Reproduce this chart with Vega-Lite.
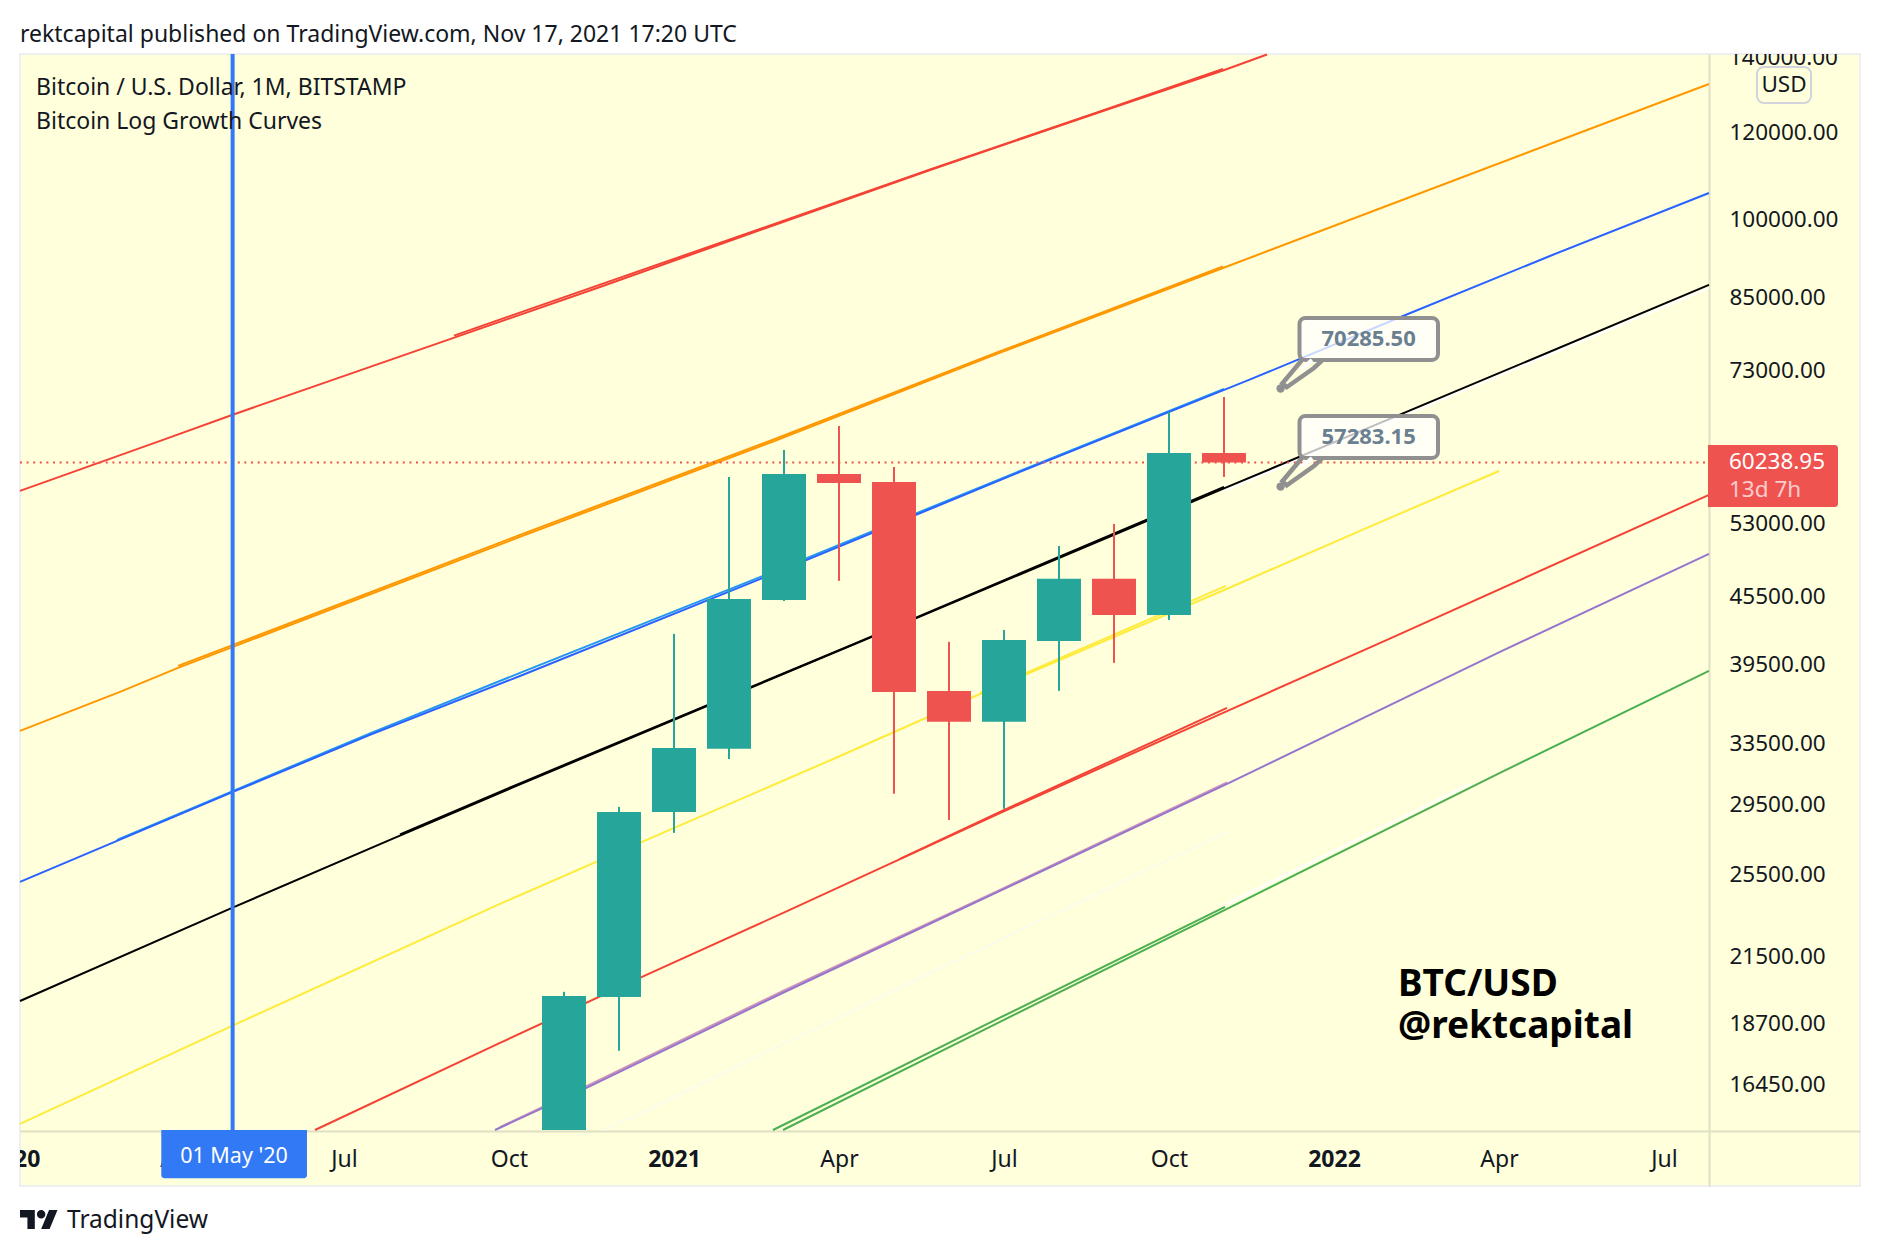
{
  "$schema": "https://vega.github.io/schema/vega-lite/v6.json",
  "autosize": {"type": "none"},
  "width": 1840,
  "height": 1132,
  "padding": {"left": 20, "right": 20, "top": 54, "bottom": 70},
  "background": "#ffffff",
  "title": {
    "text": "rektcapital published on TradingView.com, Nov 17, 2021 17:20 UTC",
    "anchor": "start",
    "frame": "group",
    "font": "Noto Sans",
    "fontSize": 23,
    "fontWeight": "normal",
    "color": "#131722",
    "offset": 3
  },
  "config": {
    "view": {"fill": "#ffffdb", "stroke": "#efefef", "strokeWidth": 2},
    "text": {"font": "Noto Sans"}
  },
  "datasets": {
    "candles": [
      {"m": 10, "month": "Nov 2020", "open": 14960, "high": 19960, "low": 14960, "close": 19790},
      {"m": 11, "month": "Dec 2020", "open": 19750, "high": 29360, "low": 17650, "close": 29050},
      {"m": 12, "month": "Jan 2021", "open": 29050, "high": 42120, "low": 27810, "close": 33200},
      {"m": 13, "month": "Feb 2021", "open": 33140, "high": 58450, "low": 32450, "close": 45310},
      {"m": 14, "month": "Mar 2021", "open": 45220, "high": 61830, "low": 45120, "close": 58820},
      {"m": 15, "month": "Apr 2021", "open": 58820, "high": 65010, "low": 47050, "close": 57720},
      {"m": 16, "month": "May 2021", "open": 57840, "high": 59680, "low": 30170, "close": 37320},
      {"m": 17, "month": "Jun 2021", "open": 37400, "high": 41430, "low": 28570, "close": 35060},
      {"m": 18, "month": "Jul 2021", "open": 35060, "high": 42470, "low": 29240, "close": 41600},
      {"m": 19, "month": "Aug 2021", "open": 41510, "high": 50610, "low": 37400, "close": 47250},
      {"m": 20, "month": "Sep 2021", "open": 47250, "high": 52990, "low": 39650, "close": 43820},
      {"m": 21, "month": "Oct 2021", "open": 43820, "high": 66940, "low": 43370, "close": 61450},
      {"m": 22, "month": "Nov 2021", "open": 61450, "high": 69060, "low": 58450, "close": 60238.95}
    ],
    "lines": [
      {"s": "redTop", "m": 0.109, "p": 56770}, {"s": "redTop", "m": 2.709, "p": 63140}, {"s": "redTop", "m": 3.964, "p": 66520},
      {"s": "redTop", "m": 10.655, "p": 86880}, {"s": "redTop", "m": 13.982, "p": 99500}, {"s": "redTop", "m": 16.709, "p": 111140},
      {"s": "redTop", "m": 19.745, "p": 125170}, {"s": "redTop", "m": 21.982, "p": 136490}, {"s": "redTop", "m": 22.782, "p": 141130},
      {"s": "redTop2", "m": 8, "p": 78500}, {"s": "redTop2", "m": 10.655, "p": 87300}, {"s": "redTop2", "m": 13.982, "p": 99710},
      {"s": "redTop2", "m": 16.709, "p": 111250}, {"s": "redTop2", "m": 19.745, "p": 125300}, {"s": "redTop2", "m": 21.982, "p": 136920},
      {"s": "orange", "m": 0.109, "p": 34410}, {"s": "orange", "m": 1.927, "p": 37320}, {"s": "orange", "m": 2.982, "p": 39240},
      {"s": "orange", "m": 3.982, "p": 41000}, {"s": "orange", "m": 9.2, "p": 51570}, {"s": "orange", "m": 13.836, "p": 63010},
      {"s": "orange", "m": 17.873, "p": 75550}, {"s": "orange", "m": 21.982, "p": 90390}, {"s": "orange", "m": 27.927, "p": 117080},
      {"s": "orange", "m": 30.818, "p": 132710},
      {"s": "orange2", "m": 2.982, "p": 39400}, {"s": "orange2", "m": 3.982, "p": 41170}, {"s": "orange2", "m": 9.2, "p": 51790},
      {"s": "orange2", "m": 13.836, "p": 63270}, {"s": "orange2", "m": 17.873, "p": 75780}, {"s": "orange2", "m": 21.982, "p": 90680},
      {"s": "blue2", "m": 1.873, "p": 27410}, {"s": "blue2", "m": 6.473, "p": 34230}, {"s": "blue2", "m": 9.2, "p": 38830},
      {"s": "blue2", "m": 13.8, "p": 47940}, {"s": "blue2", "m": 18.291, "p": 59180}, {"s": "blue2", "m": 22, "p": 70230},
      {"s": "blue", "m": 0.109, "p": 25110}, {"s": "blue", "m": 1.873, "p": 27350}, {"s": "blue", "m": 3.982, "p": 30290},
      {"s": "blue", "m": 6.473, "p": 34120}, {"s": "blue", "m": 9.2, "p": 38580}, {"s": "blue", "m": 13.8, "p": 47740},
      {"s": "blue", "m": 18.291, "p": 59060}, {"s": "blue", "m": 22.455, "p": 71560}, {"s": "blue", "m": 25.255, "p": 81780},
      {"s": "blue", "m": 27.927, "p": 92690}, {"s": "blue", "m": 30.818, "p": 105710},
      {"s": "whiteA", "m": 22, "p": 56770}, {"s": "whiteA", "m": 30.818, "p": 86700},
      {"s": "black", "m": 0.109, "p": 19580}, {"s": "black", "m": 3.964, "p": 23780}, {"s": "black", "m": 6.836, "p": 27410},
      {"s": "black", "m": 9.2, "p": 30770}, {"s": "black", "m": 15.382, "p": 41430}, {"s": "black", "m": 22, "p": 57060},
      {"s": "black", "m": 30.818, "p": 87250},
      {"s": "black2", "m": 7.018, "p": 27720}, {"s": "black2", "m": 9.2, "p": 30840}, {"s": "black2", "m": 15.382, "p": 41470},
      {"s": "black2", "m": 22, "p": 57240},
      {"s": "yellow", "m": 0.109, "p": 15150}, {"s": "yellow", "m": 3.964, "p": 18590}, {"s": "yellow", "m": 8.836, "p": 23980},
      {"s": "yellow", "m": 11.418, "p": 27290}, {"s": "yellow", "m": 14.855, "p": 32380}, {"s": "yellow", "m": 17.564, "p": 37160},
      {"s": "yellow", "m": 22.036, "p": 46240}, {"s": "yellow", "m": 24.473, "p": 52220}, {"s": "yellow", "m": 27, "p": 59180},
      {"s": "yellow2", "m": 17.564, "p": 37240}, {"s": "yellow2", "m": 22.036, "p": 46560},
      {"s": "redLow", "m": 5.473, "p": 14960}, {"s": "redLow", "m": 8.836, "p": 17940}, {"s": "redLow", "m": 11.418, "p": 20590},
      {"s": "redLow", "m": 14.055, "p": 23620}, {"s": "redLow", "m": 17.927, "p": 28980}, {"s": "redLow", "m": 22.055, "p": 35860},
      {"s": "redLow", "m": 24.964, "p": 41600}, {"s": "redLow", "m": 30.818, "p": 56290},
      {"s": "redLow2", "m": 16.109, "p": 26340}, {"s": "redLow2", "m": 17.927, "p": 29050}, {"s": "redLow2", "m": 22.055, "p": 36100},
      {"s": "purple2", "m": 8.836, "p": 15050}, {"s": "purple2", "m": 10.418, "p": 16400}, {"s": "purple2", "m": 13.982, "p": 20000},
      {"s": "purple2", "m": 17.927, "p": 24690}, {"s": "purple2", "m": 22.055, "p": 30900},
      {"s": "purple", "m": 8.745, "p": 14960}, {"s": "purple", "m": 10.418, "p": 16340}, {"s": "purple", "m": 13.982, "p": 19920},
      {"s": "purple", "m": 17.927, "p": 24640}, {"s": "purple", "m": 22.055, "p": 30800}, {"s": "purple", "m": 27.018, "p": 40570},
      {"s": "purple", "m": 30.818, "p": 49770},
      {"s": "pale", "m": 10.745, "p": 14960}, {"s": "pale", "m": 17.927, "p": 22250}, {"s": "pale", "m": 22.055, "p": 27870},
      {"s": "whiteB", "m": 22.018, "p": 23930}, {"s": "whiteB", "m": 26.473, "p": 30800},
      {"s": "green2", "m": 13.8, "p": 14960}, {"s": "green2", "m": 17.927, "p": 18910}, {"s": "green2", "m": 22.018, "p": 23830},
      {"s": "green", "m": 13.982, "p": 14960}, {"s": "green", "m": 17.927, "p": 18750}, {"s": "green", "m": 22.018, "p": 23680},
      {"s": "green", "m": 27.018, "p": 31520}, {"s": "green", "m": 30.818, "p": 38990}
    ],
    "tails": [
      {"s": "t1", "o": 1, "m": 23.418, "p": 74610}, {"s": "t1", "o": 2, "m": 23.062, "p": 71070}, {"s": "t1", "o": 3, "m": 23.14, "p": 70480}, {"s": "t1", "o": 4, "m": 23.636, "p": 73370}, {"s": "t1", "o": 5, "m": 23.795, "p": 74610},
      {"s": "t2", "o": 1, "m": 23.418, "p": 60810}, {"s": "t2", "o": 2, "m": 23.062, "p": 57930}, {"s": "t2", "o": 3, "m": 23.14, "p": 57440}, {"s": "t2", "o": 4, "m": 23.636, "p": 59800}, {"s": "t2", "o": 5, "m": 23.795, "p": 60810}
    ],
    "tailFill": [
      {"s": "t1", "m": 23.4, "p": 73150}, {"s": "t1", "m": 23.6, "p": 74610},
      {"s": "t2", "m": 23.4, "p": 59620}, {"s": "t2", "m": 23.6, "p": 60810}
    ],
    "callouts": [
      {"m": 23.373, "m2": 25.891, "p": 81440, "p2": 74610, "tm": 24.63, "tp": 77950, "dot": 70285.5, "label": "70285.50"},
      {"m": 23.373, "m2": 25.891, "p": 66380, "p2": 60810, "tm": 24.63, "tp": 63530, "dot": 57283.15, "label": "57283.15"}
    ]
  },
  "encoding": {
    "x": {
      "field": "m",
      "type": "quantitative",
      "scale": {"domain": [0.109, 33.564], "nice": false, "zero": false, "padding": 0},
      "axis": {
        "orient": "bottom",
        "offset": -55,
        "title": null,
        "grid": false,
        "ticks": false,
        "domainColor": "#e0e0c4",
        "domainWidth": 2,
        "values": [3, 6, 9, 12, 15, 18, 21, 24, 27, 30],
        "labelExpr": "datum.value % 12 == 0 ? '' + (2020 + datum.value / 12) : datum.value % 12 == 3 ? 'Apr' : datum.value % 12 == 6 ? 'Jul' : 'Oct'",
        "labelFont": "Noto Sans",
        "labelFontSize": 23,
        "labelFontWeight": {"expr": "datum.value % 12 == 0 ? 'bold' : 'normal'"},
        "labelColor": "#131722",
        "labelPadding": 17,
        "labelOverlap": false,
        "labelFlush": false,
        "labelBound": false
      }
    },
    "y": {
      "field": "p",
      "type": "quantitative",
      "scale": {"type": "log", "domain": [13310, 141270], "nice": false},
      "axis": {
        "orient": "right",
        "offset": -151,
        "title": null,
        "grid": false,
        "ticks": false,
        "domainColor": "#e0e0c4",
        "domainWidth": 2,
        "values": [120000, 100000, 85000, 73000, 53000, 45500, 39500, 33500, 29500, 25500, 21500, 18700, 16450],
        "format": ".2f",
        "labelFont": "Noto Sans",
        "labelFontSize": 22.5,
        "labelColor": "#131722",
        "labelPadding": 20,
        "labelOverlap": false,
        "labelFlush": false,
        "labelBound": false
      }
    }
  },
  "layer": [
    {
      "data": {"name": "lines"},
      "mark": {"type": "line", "strokeWidth": 2},
      "encoding": {
        "color": {
          "field": "s",
          "type": "nominal",
          "legend": null,
          "scale": {
            "domain": ["redTop", "redTop2", "orange", "orange2", "blue", "blue2", "whiteA", "black", "black2", "yellow", "yellow2", "redLow", "redLow2", "purple", "purple2", "pale", "whiteB", "green", "green2"],
            "range": ["#f44336", "#f44336", "#ff9800", "#ff9800", "#2962ff", "#2196f3", "#ffffff", "#000000", "#000000", "#ffeb3b", "#ffeb3b", "#f44336", "#f44336", "#9575cd", "#ce93b8", "#fbfbec", "#ffffff", "#4caf50", "#4caf50"]
          }
        }
      }
    },
    {
      "data": {"values": [{"m": 0.109, "m2": 30.818, "p": 60238.95}]},
      "mark": {"type": "rule", "color": "#ef5350", "strokeWidth": 2, "strokeDash": [2, 4.6]},
      "encoding": {"x2": {"field": "m2"}}
    },
    {
      "data": {"name": "candles"},
      "mark": {"type": "rule", "strokeWidth": 2},
      "encoding": {
        "y": {"field": "high", "type": "quantitative", "scale": {"type": "log", "domain": [13310, 141270], "nice": false}},
        "y2": {"field": "low"},
        "color": {"condition": {"test": "datum.close < datum.open", "value": "#ef5350"}, "value": "#26a69a"}
      }
    },
    {
      "data": {"name": "candles"},
      "mark": {"type": "bar", "size": 44},
      "encoding": {
        "y": {"field": "open", "type": "quantitative", "scale": {"type": "log", "domain": [13310, 141270], "nice": false}},
        "y2": {"field": "close"},
        "color": {"condition": {"test": "datum.close < datum.open", "value": "#ef5350"}, "value": "#26a69a"}
      }
    },
    {
      "data": {"values": [{"m": 3.975, "p": 141270, "p2": 14960}]},
      "mark": {"type": "rule", "color": "#3179f5", "strokeWidth": 4},
      "encoding": {"y2": {"field": "p2"}}
    },
    {
      "data": {"values": [{"m": 2.678, "m2": 5.327, "p": 14960, "p2": 13530}]},
      "mark": {"type": "rect", "color": "#3179f5", "cornerRadiusBottomLeft": 3, "cornerRadiusBottomRight": 3},
      "encoding": {"x2": {"field": "m2"}, "y2": {"field": "p2"}}
    },
    {
      "data": {"values": [{"m": 4, "p": 14140, "label": "01 May '20"}]},
      "mark": {"type": "text", "fontSize": 21.5, "color": "#ffffff", "align": "center", "baseline": "middle"},
      "encoding": {"text": {"field": "label"}}
    },
    {
      "data": {"values": [{"m": 30.8, "m2": 33.164, "p": 62490, "p2": 54900}]},
      "mark": {"type": "rect", "color": "#ef5350", "cornerRadiusTopRight": 3, "cornerRadiusBottomRight": 3},
      "encoding": {"x2": {"field": "m2"}, "y2": {"field": "p2"}}
    },
    {
      "data": {"values": [{"m": 31.182, "p": 60240, "label": "60238.95"}]},
      "mark": {"type": "text", "fontSize": 22.5, "color": "#ffffff", "align": "left", "baseline": "middle"},
      "encoding": {"text": {"field": "label"}}
    },
    {
      "data": {"values": [{"m": 31.182, "p": 56880, "label": "13d 7h"}]},
      "mark": {"type": "text", "fontSize": 22.5, "color": "#ffffff", "opacity": 0.7, "align": "left", "baseline": "middle"},
      "encoding": {"text": {"field": "label"}}
    },
    {
      "data": {"values": [{"m": 31.182, "p": 140000, "label": "140000.00"}]},
      "mark": {"type": "text", "fontSize": 22.5, "color": "#131722", "align": "left", "baseline": "middle", "clip": true},
      "encoding": {"text": {"field": "label"}}
    },
    {
      "data": {"values": [{"m": 0, "p": 14060, "label": "2020"}]},
      "mark": {"type": "text", "fontSize": 23, "fontWeight": "bold", "color": "#131722", "align": "center", "baseline": "middle", "clip": true},
      "encoding": {"text": {"field": "label"}}
    },
    {
      "data": {"values": [{"m": 31.691, "m2": 32.673, "p": 137490, "p2": 127540}]},
      "mark": {"type": "rect", "fill": "#ffffdb", "stroke": "#d1d4dc", "strokeWidth": 2, "cornerRadius": 7},
      "encoding": {"x2": {"field": "m2"}, "y2": {"field": "p2"}}
    },
    {
      "data": {"values": [{"m": 32.182, "p": 132420, "label": "USD"}]},
      "mark": {"type": "text", "fontSize": 22.5, "color": "#131722", "align": "center", "baseline": "middle"},
      "encoding": {"text": {"field": "label"}}
    },
    {
      "data": {"name": "tails"},
      "mark": {"type": "line", "color": "#909090", "strokeWidth": 4.5},
      "encoding": {"detail": {"field": "s"}, "order": {"field": "o"}}
    },
    {
      "data": {"name": "callouts"},
      "mark": {"type": "rect", "fill": "#ffffff", "fillOpacity": 0.75, "stroke": "#909090", "strokeWidth": 4, "cornerRadius": 6},
      "encoding": {"x2": {"field": "m2"}, "y2": {"field": "p2"}}
    },
    {
      "data": {"name": "tailFill"},
      "mark": {"type": "line", "color": "#ffffff", "strokeWidth": 4},
      "encoding": {"detail": {"field": "s"}}
    },
    {
      "data": {"name": "callouts"},
      "mark": {"type": "text", "fontSize": 22, "fontWeight": "bold", "color": "#6a7f90", "align": "center", "baseline": "middle"},
      "encoding": {
        "x": {"field": "tm", "type": "quantitative", "scale": {"domain": [0.109, 33.564], "nice": false, "zero": false, "padding": 0}},
        "y": {"field": "tp", "type": "quantitative", "scale": {"type": "log", "domain": [13310, 141270], "nice": false}},
        "text": {"field": "label"}
      }
    },
    {
      "data": {"name": "callouts"},
      "mark": {"type": "point", "filled": true, "size": 70, "color": "#909090", "opacity": 1},
      "encoding": {
        "x": {"datum": 23.029, "type": "quantitative", "scale": {"domain": [0.109, 33.564], "nice": false, "zero": false, "padding": 0}},
        "y": {"field": "dot", "type": "quantitative", "scale": {"type": "log", "domain": [13310, 141270], "nice": false}}
      }
    },
    {
      "data": {"values": [
        {"m": 0.4, "p": 131600, "label": "Bitcoin / U.S. Dollar, 1M, BITSTAMP"},
        {"m": 0.4, "p": 122580, "label": "Bitcoin Log Growth Curves"}
      ]},
      "mark": {"type": "text", "fontSize": 23, "color": "#131722", "align": "left", "baseline": "middle"},
      "encoding": {"text": {"field": "label"}}
    },
    {
      "data": {"values": [
        {"m": 25.164, "p": 20250, "label": "BTC/USD"},
        {"m": 25.164, "p": 18550, "label": "@rektcapital"}
      ]},
      "mark": {"type": "text", "fontSize": 37, "fontWeight": "bold", "color": "#000000", "align": "left", "baseline": "middle"},
      "encoding": {"text": {"field": "label"}}
    },
    {
      "data": {"values": [{"m": 0.964, "p": 12380, "label": "TradingView"}]},
      "mark": {"type": "text", "fontSize": 24.5, "color": "#131722", "align": "left", "baseline": "middle"},
      "encoding": {"text": {"field": "label"}}
    },
    {
      "data": {"values": [{"m": 0.455, "p": 12410}]},
      "mark": {
        "type": "point",
        "filled": true,
        "opacity": 1,
        "color": "#131722",
        "size": 1444,
        "shape": "M -0.222 0.5 H -0.611 V -0.111 H -1 V -0.5 H -0.222 Z M 0.556 0.5 H 0.111 L 0.528 -0.5 H 0.972 Z M 0.333 -0.278 A 0.222 0.222 0 1 1 -0.111 -0.278 A 0.222 0.222 0 1 1 0.333 -0.278 Z"
      }
    }
  ]
}
